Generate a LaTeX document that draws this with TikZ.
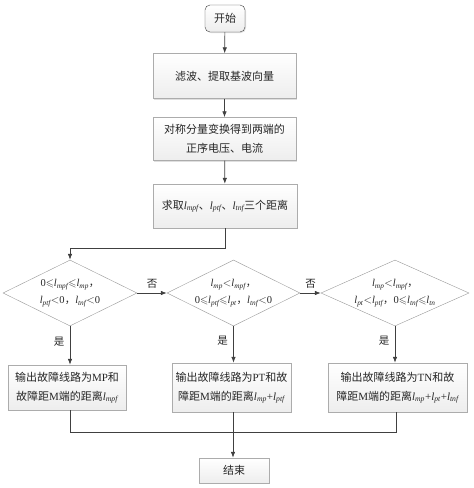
\documentclass[tikz,border=0pt]{standalone}
\usepackage{amssymb}
\usepackage{fontspec}
\setmainfont{Liberation Serif}
\newfontfamily\cjk{Noto Sans CJK SC}
\usetikzlibrary{shapes.geometric,arrows.meta,shadows}
\newcommand\Lv[1]{{\rmfamily\itshape l\textsubscript{#1}}}
\newcommand\Er[1]{{\rmfamily #1}}
\begin{document}
\begin{tikzpicture}[x=1pt,y=-1pt,
  every node/.style={font=\cjk\fontsize{11}{19}\selectfont, text=black!85},
  boxst/.style={draw=gray!65, top color=white, bottom color=gray!14, inner sep=0pt, align=center,
     drop shadow={shadow xshift=1pt,shadow yshift=-1pt,opacity=0.25}},
  termst/.style={boxst, draw=black!75, rounded corners=5pt},
  diast/.style={diamond, draw=gray!80, inner sep=0pt},
  conn/.style={draw=black!75, line width=0.7pt},
  arr/.style={conn, -{Latex[length=6pt,width=4.5pt]}},
  lbl/.style={font=\cjk\fontsize{10.5}{12}\selectfont},
  dtxt/.style={align=center, font=\cjk\fontsize{10.5}{17}\selectfont}
]
\useasboundingbox (0,0) rectangle (474,488);

\node[termst, minimum width=40pt, minimum height=27pt] (start) at (225,18.5) {开始};
\node[boxst, minimum width=143pt, minimum height=45pt] (filt) at (224.5,76) {滤波、提取基波向量};
\node[boxst, minimum width=143pt, minimum height=43pt] (sym) at (224.5,139) {对称分量变换得到两端的\\正序电压、电流};
\node[boxst, minimum width=144pt, minimum height=44pt] (calc) at (225,206) {求取\Lv{mpf}、\Lv{ptf}、\Lv{tnf}三个距离};

\node[diast, minimum width=134pt, minimum height=66pt] (d1) at (70,293) {};
\node[diast, minimum width=133pt, minimum height=66pt] (d2) at (233.5,293) {};
\node[diast, minimum width=148pt, minimum height=66pt] (d3) at (395,293) {};
\node[dtxt] (t1) at (d1) {\Er{0}$\leqslant$\Lv{mpf}$\leqslant$\Lv{mp}，\\\Lv{ptf}$<$\Er{0}，\Lv{tnf}$<$\Er{0}};
\node[dtxt] (t2) at (d2) {\Lv{mp}$<$\Lv{mpf}，\\\Er{0}$\leqslant$\Lv{ptf}$\leqslant$\Lv{pt}，\Lv{tnf}$<$\Er{0}};
\node[dtxt] (t3) at (d3) {\Lv{mp}$<$\Lv{mpf}，\\\Lv{pt}$<$\Lv{ptf}，\Er{0}$\leqslant$\Lv{tnf}$\leqslant$\Lv{tn}};

\node[boxst, minimum width=118pt, minimum height=45pt] (o1) at (67,387.5) {输出故障线路为\Er{MP}和\\故障距\Er{M}端的距离\Lv{mpf}};
\node[boxst, minimum width=119pt, minimum height=49pt] (o2) at (231.5,387.5) {输出故障线路为\Er{PT}和故\\障距\Er{M}端的距离\Lv{mp}\Er{+}\Lv{ptf}};
\node[boxst, minimum width=139pt, minimum height=49pt] (o3) at (397.5,387.5) {输出故障线路为\Er{TN}和故\\障距\Er{M}端的距离\Lv{mp}\Er{+}\Lv{pt}\Er{+}\Lv{tnf}};

\node[boxst, minimum width=70pt, minimum height=25pt] (end) at (234,470.5) {结束};

\coordinate (j1) at (225,248);
\coordinate (j2) at (70,248);
\coordinate (m1) at (70,432);
\coordinate (m3) at (396,432);
\coordinate (m2) at (233,432);

\draw[arr] (start) -- (filt);
\draw[arr] (filt) -- (sym);
\draw[arr] (sym) -- (calc);
\draw[arr] (calc.south) -- (j1) -- (j2) -- (d1.north);
\draw[arr] (d1.east) -- node[lbl, above=1pt] {否} (d2.west);
\draw[arr] (d2.east) -- node[lbl, above=1pt] {否} (d3.west);
\draw[arr] (d1.south) -- node[lbl, left=2pt, pos=0.4] {是} (d1.south |- o1.north);
\draw[arr] (d2.south) -- node[lbl, left=2pt, pos=0.4] {是} (d2.south |- o2.north);
\draw[arr] (d3.south) -- node[lbl, left=2pt, pos=0.4] {是} (d3.south |- o3.north);
\draw[conn] (o1.south -| m1) -- (m1) -- (m3) -- (o3.south -| m3);
\draw[arr] (o2.south -| m2) -- (end.north -| m2);
\end{tikzpicture}
\end{document}
